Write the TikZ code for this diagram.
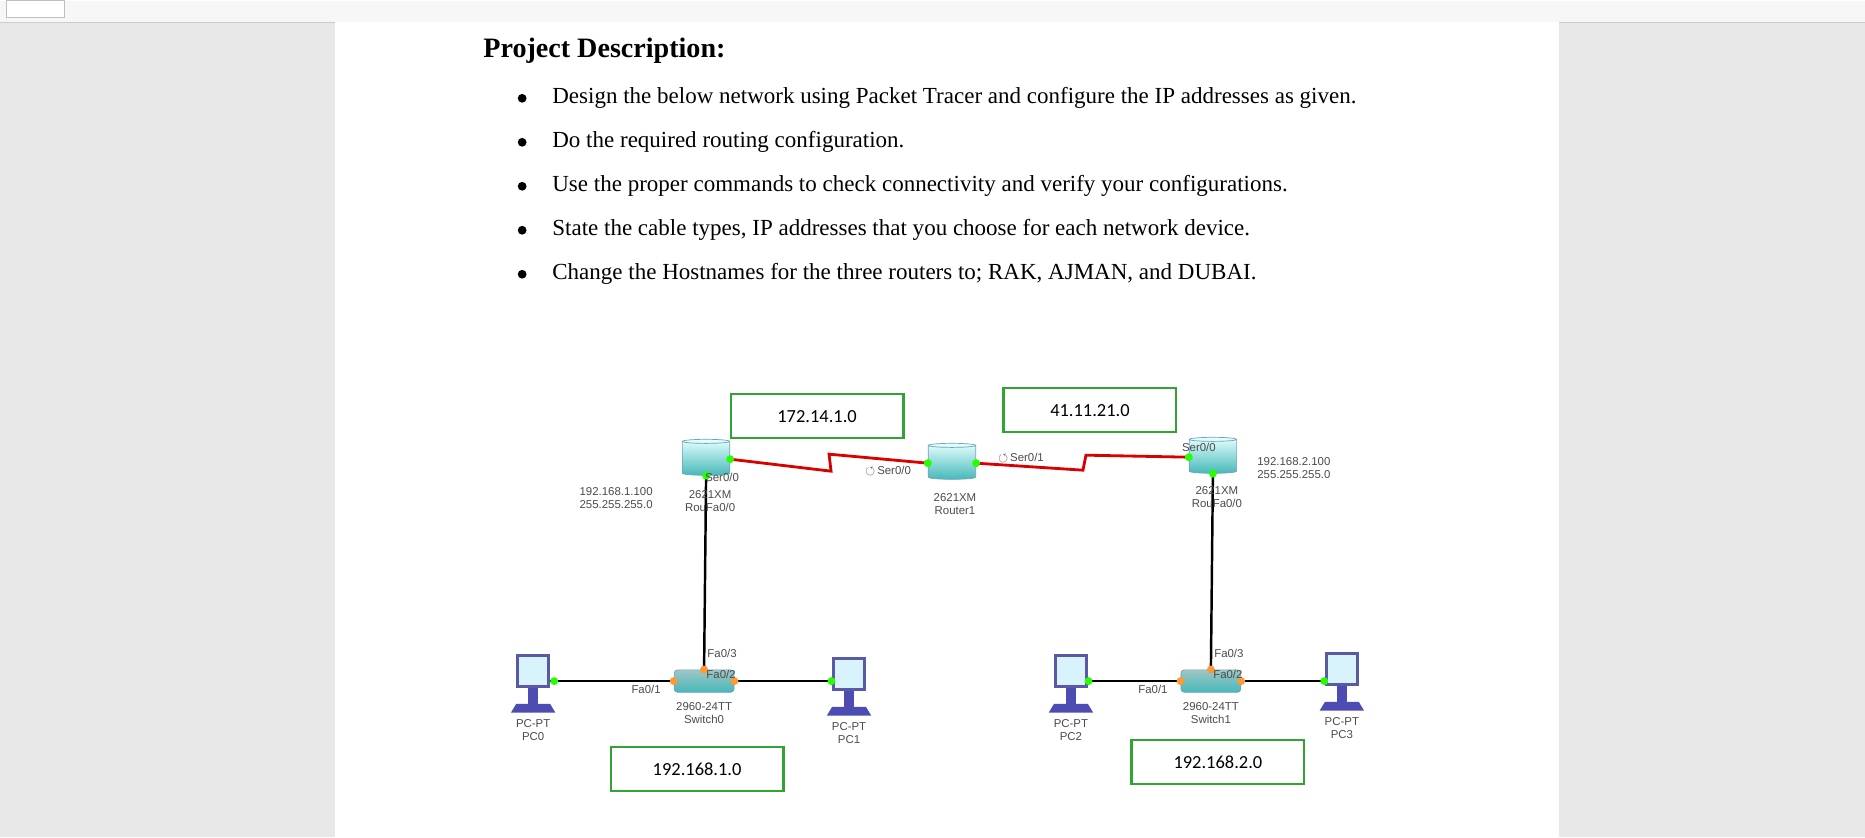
\documentclass[tikz,border=0pt]{standalone}
\usepackage{amssymb}
\usepackage{fontspec}
\setmainfont{Liberation Serif}
\newfontfamily\boxfont{Carlito}
\newfontfamily\ptfont{Liberation Sans}
\usepackage{tikz}
\usetikzlibrary{positioning, arrows.meta, shapes.geometric}

\begin{document}
\begin{tikzpicture}[x=0.02cm, y=-0.02cm]

	% Styles
	\tikzset{
		netbox/.style={
			rectangle, draw=green!55!black!80, line width=1.2pt,
			minimum width=3.46cm, minimum height=0.88cm,
			font=\boxfont\fontsize{10.5}{12}\selectfont
		},
		bullet/.style={anchor=west, font=\fontsize{13.1}{15}\selectfont},
		router/.style={
			shape=cylinder, shape border rotate=90, aspect=0.35, draw=cyan!40!gray,
			top color=cyan!10, bottom color=cyan!45!gray,
			minimum width=0.95cm, minimum height=0.72cm
		},
		switchbox/.style={
			rectangle, rounded corners=2pt,
			draw=cyan!40!gray, top color=cyan!25!gray!60, bottom color=cyan!45!gray,
			minimum width=1.2cm, minimum height=0.45cm
		},
		pc/.style={
			rectangle, draw=gray!70!blue, fill=cyan!15, line width=1.6pt,
			minimum width=0.62cm, minimum height=0.62cm
		},
		tag/.style={font=\ptfont\fontsize{6.5}{7.5}\selectfont, text=gray!60!black, inner sep=0.5pt, align=left},
		serial/.style={red!85!black, line width=1.6pt},
		lan/.style={black, line width=1.4pt},
		updot/.style={circle, fill=green!80!lime, inner sep=0pt, minimum size=4.5pt},
		offdot/.style={circle, fill=orange!80, inner sep=0pt, minimum size=4.5pt}
	}

	% Page
	\fill[gray!18] (0,0) rectangle (1865,836);
	\fill[gray!6] (0,0) rectangle (1865,21);
	\draw[gray!40] (0,21) -- (1865,21);
	\draw[gray!50, fill=white] (6,-1) rectangle (64,16);
	\fill[white] (335,21) rectangle (1559,836);
	\useasboundingbox (0,0) rectangle (1865,836);

	% Text
	\node (title) [anchor=west, font=\bfseries\fontsize{16}{18}\selectfont] at (477,49) {Project Description:};
	\foreach \y/\txt [count=\i] in {
		97/Design the below network using Packet Tracer and configure the IP addresses as given.,
		141/Do the required routing configuration.,
		185/Use the proper commands to check connectivity and verify your configurations.,
		229/{State the cable types, IP addresses that you choose for each network device.},
		273/{Change the Hostnames for the three routers to; RAK, AJMAN, and DUBAI.}}{
		\node (dot\i) [circle, fill, inner sep=0pt, minimum size=5pt] at (522,\y) {};
		\node (item\i) [bullet] at (546,\y) {\txt};
	}

	% Network boxes
	\node (netA) [netbox] at (817,415) {172.14.1.0};
	\node (netB) [netbox] at (1090,409) {41.11.21.0};
	\node (lanA) [netbox] at (697,768) {192.168.1.0};
	\node (lanB) [netbox] at (1218,761) {192.168.2.0};

	% Routers
	\node (r0) [router] at (706,458) {};
	\node (r1) [router] at (952,462) {};
	\node (r2) [router] at (1213,456) {};

	% Switches
	\node (sw0) [switchbox] at (704,680) {};
	\node (sw1) [switchbox] at (1211,680) {};

	% PCs
	\node (pc0) [pc] at (533,670) {};
	\node (pc1) [pc] at (849,673) {};
	\node (pc2) [pc] at (1071,670) {};
	\node (pc3) [pc] at (1342,668) {};
	\foreach \p in {pc0, pc1, pc2, pc3}{
		\fill[gray!60!blue] ([yshift=-9pt]\p.south west) -- ([xshift=-3pt,yshift=-14pt]\p.south west) -- ([xshift=3pt,yshift=-14pt]\p.south east) -- ([yshift=-9pt]\p.south east) -- cycle;
		\fill[gray!60!blue] ([xshift=-3pt]\p.south) rectangle ([xshift=3pt,yshift=-9pt]\p.south);
	}

	% Serial links
	\coordinate (kinkA) at (831,470);
	\coordinate (kinkB) at (1083,469);
	\draw[serial] (r0.east) -- (kinkA) -- (829,453) -- (r1.west);
	\draw[serial] (r1.east) -- (kinkB) -- (1086,454) -- (r2.west);

	% LAN links
	\draw[lan] (r0.south) -- (sw0.north);
	\draw[lan] (r2.south) -- (sw1.north);
	\draw[lan] (pc0.east |- sw0.west) -- (sw0.west);
	\draw[lan] (sw0.east) -- (pc1.west |- sw0.east);
	\draw[lan] (pc2.east |- sw1.west) -- (sw1.west);
	\draw[lan] (sw1.east) -- (pc3.west |- sw1.east);

	% Port lights
	\foreach \pos in {r0.east, r1.west, r1.east, r2.west, r0.south, r2.south}
		\node [updot] at (\pos) {};
	\foreach \p/\s/\d in {pc0/sw0/12, pc1/sw0/-10, pc2/sw1/10, pc3/sw1/-10}
		\node [updot] at ([xshift=\d pt]\p |- \s) {};
	\foreach \pos in {sw0.north, sw1.north, sw0.west, sw0.east, sw1.west, sw1.east}
		\node [offdot] at (\pos) {};

	% Labels
	\node [tag] at (722,476) {Ser0/0};
	\node [tag, align=center] at (710,500) {2621XM\\RouFa0/0};
	\node [tag] at (616,497) {192.168.1.100\\255.255.255.0};
	\node [tag] at (888,470) {$\circlearrowleft$\,Ser0/0};
	\node [tag, align=center] at (955,503) {2621XM\\Router1};
	\node [tag] at (1021,457) {$\circlearrowleft$\,Ser0/1};
	\node [tag] at (1199,446) {Ser0/0};
	\node [tag] at (1294,467) {192.168.2.100\\255.255.255.0};
	\node [tag, align=center] at (1217,496) {2621XM\\RouFa0/0};
	\foreach \s/\x/\n in {sw0/704/0, sw1/1211/1}{
		\node [tag] at (\x+18,652) {Fa0/3};
		\node [tag] at (\x+17,673) {Fa0/2};
		\node [tag] at (\x-58,688) {Fa0/1};
		\node [tag, align=center] at (\x,712) {2960-24TT\\Switch\n};
	}
	\foreach \p/\n in {pc0/0, pc1/1, pc2/2, pc3/3}
		\node [tag, align=center, below=17pt of \p] {PC-PT\\PC\n};

\end{tikzpicture}
\end{document}
